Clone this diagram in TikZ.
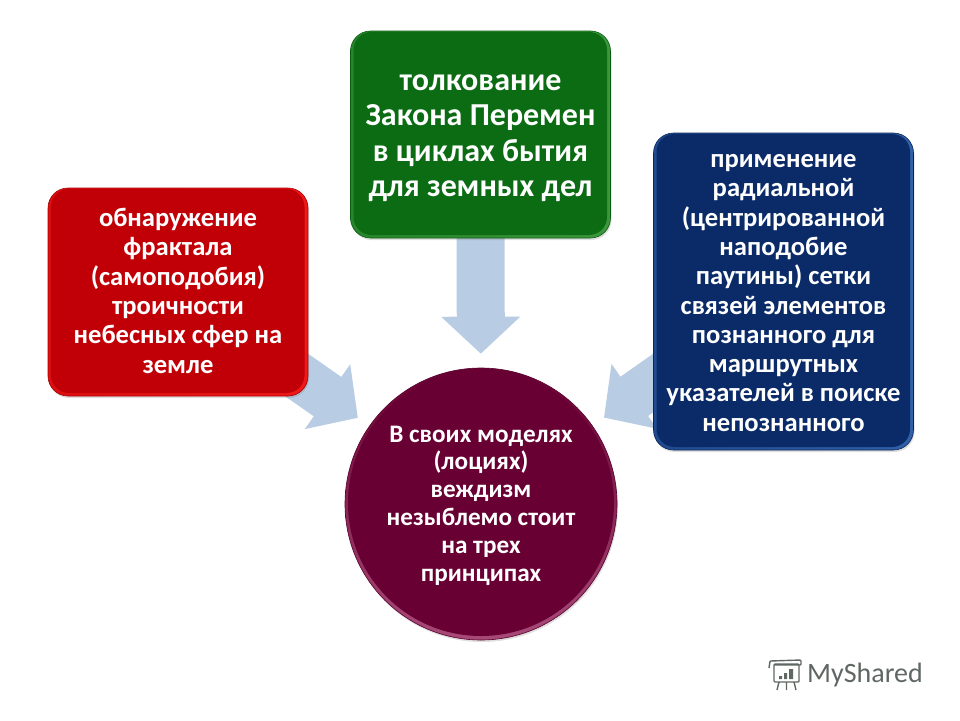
\documentclass[tikz,border=0pt]{standalone}
\usepackage{fontspec}
\setmainfont{Carlito}
\usepackage{tikz}
\usetikzlibrary{
	arrows.meta,
	backgrounds,
	shadows
}
\newcommand{\ctlines}[1]{
	\raisebox{-2pt}[\height][\depth]{\begin{tabular}{c}
		#1
	\end{tabular}}
}
\definecolor{redmain}{HTML}{C00006}
\definecolor{rededge}{HTML}{F01818}
\definecolor{greenmain}{HTML}{0C6C14}
\definecolor{greenedge}{HTML}{3C963C}
\definecolor{bluemain}{HTML}{0A2A68}
\definecolor{blueedge}{HTML}{3060A8}
\definecolor{hubmain}{HTML}{680033}
\definecolor{hubedge}{HTML}{A84A78}
\definecolor{pipe}{HTML}{B8CCE4}
\definecolor{logo}{HTML}{5F6763}
\tikzset{
	soft/.style={drop shadow={shadow xshift=1pt,shadow yshift=-2pt,opacity=.25}},
	panel/.style 2 args={
		rectangle,rounded corners=20pt,minimum width=260pt,minimum height=#2,inner sep=0pt,
		text=white,font=\bfseries\fontsize{26.6}{29.3}\selectfont,
		draw=#1main!85!black,line width=.6pt,soft,
		left color=#1edge!60!#1main,right color=#1edge,
		path picture={
			\fill[#1main,rounded corners=18pt]
				([shift={(3pt,3pt)}]path picture bounding box.south west) rectangle
				([shift={(-3.5pt,-1pt)}]path picture bounding box.north east);
		}
	},
	disc/.style={
		circle,minimum size=272pt,inner sep=0pt,
		text=white,font=\bfseries\fontsize{25.2}{27.8}\selectfont,
		draw=hubmain!85!black,line width=.6pt,soft,
		top color=hubmain,bottom color=hubedge,
		path picture={
			\fill[hubmain] (path picture bounding box.center) ++(0pt,1pt) circle (133pt);
		}
	},
	pipeline/.style={
		line width=48pt,color=pipe,shorten >=14pt,
		-{Triangle[length=37pt,width=77pt]}
	}
}

\begin{document}
\begin{tikzpicture}[x=1pt,y=-1pt]
	\useasboundingbox (0,0) rectangle (960,720);

	\node[panel={red}{208pt}] (fractal) at (178,292) {\ctlines{обнаружение \\ фрактала \\ (самоподобия) \\ троичности \\ небесных сфер на \\ земле}};
	\node[panel={green}{207pt},font=\bfseries\fontsize{32}{35.5}\selectfont] (reading) at (480.5,134.5) {\ctlines{толкование \\ Закона Перемен \\ в циклах бытия \\ для земных дел}};
	\node[panel={blue}{317pt}] (radial) at (783.5,291.5) {\ctlines{применение \\ радиальной \\ (центрированной \\ наподобие \\ паутины) сетки \\ связей элементов \\ познанного для \\ маршрутных \\ указателей в поиске \\ непознанного}};
	\node[disc] (hub) at (481,504) {\ctlines{В своих моделях \\ (лоциях) \\ веждизм \\ незыблемо стоит \\ на трех \\ принципах}};

	\begin{scope}[on background layer]
		\draw[pipeline] (fractal.center) -- (hub);
		\draw[pipeline] (reading.center) -- (hub);
		\draw[pipeline] (radial.center) -- (hub);
	\end{scope}

	\node[text=logo,font=\fontsize{28}{28}\selectfont,inner sep=0pt] (myshared) at (865,675) {MyShared};

	% logo board
	\draw[logo,line width=1.4pt,rounded corners=1pt]
		(774,664) rectangle (799,682)
		(769,668) -- (770,661) -- (801,660) -- (801,665) -- (774,665)
		(779,682) -- (777,690) (786.5,682) -- (786.5,690) (794,682) -- (796,690);
	\fill[logo]
		(779,676) rectangle (782,679)
		(784,673) rectangle (787,679)
		(789,669) rectangle (793,679);
\end{tikzpicture}
\end{document}
